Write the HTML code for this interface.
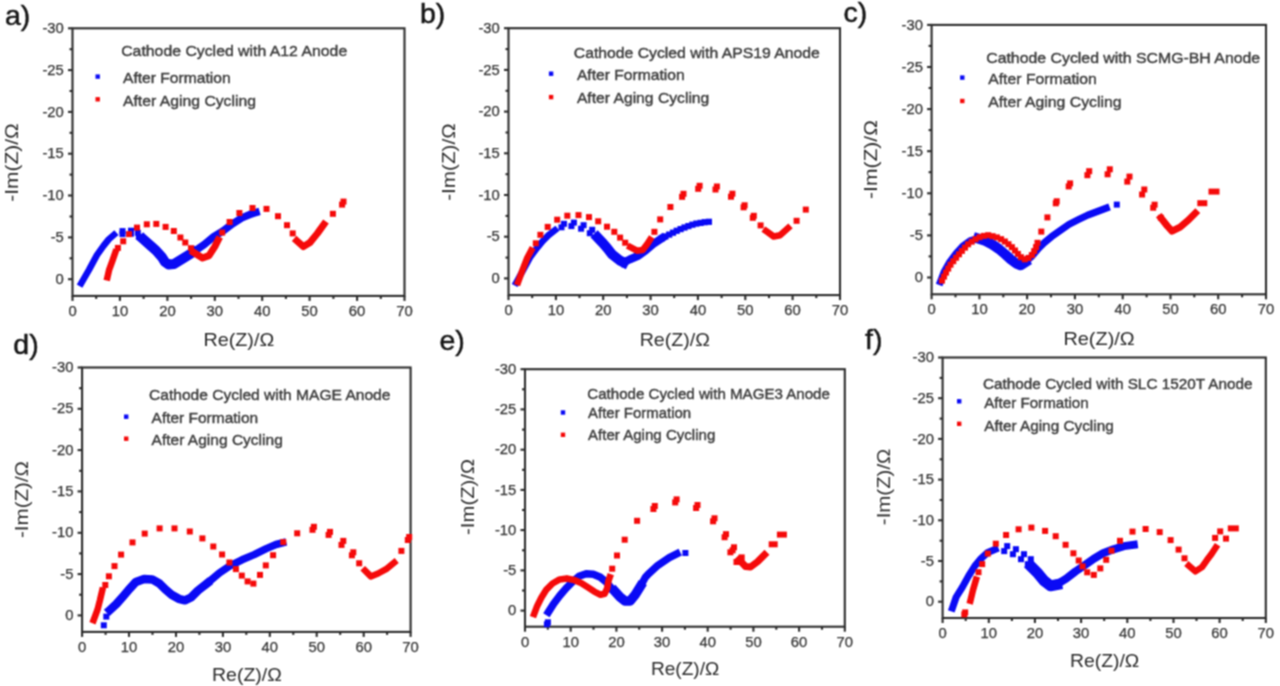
<!DOCTYPE html><html><head><meta charset="utf-8"><title>Nyquist plots</title><style>html,body{margin:0;padding:0;background:#fff;width:1280px;height:686px;overflow:hidden}svg{display:block}text{font-family:"Liberation Sans",sans-serif}</style></head><body>
<svg width="1280" height="686" viewBox="0 0 1280 686">
<defs><filter id="bl" filterUnits="userSpaceOnUse" x="0" y="0" width="1280" height="686" color-interpolation-filters="sRGB"><feConvolveMatrix order="3" kernelMatrix="1 2 1 2 4 2 1 2 1" edgeMode="none" preserveAlpha="false"/></filter></defs>
<rect width="1280" height="686" fill="#fff"/>
<g filter="url(#bl)">
<g stroke="#2c2c2c" stroke-width="2.1"><line x1="72.5" y1="295.9" x2="72.5" y2="300.9"/><line x1="96.2" y1="295.9" x2="96.2" y2="298.9"/><line x1="119.9" y1="295.9" x2="119.9" y2="300.9"/><line x1="143.6" y1="295.9" x2="143.6" y2="298.9"/><line x1="167.4" y1="295.9" x2="167.4" y2="300.9"/><line x1="191.1" y1="295.9" x2="191.1" y2="298.9"/><line x1="214.8" y1="295.9" x2="214.8" y2="300.9"/><line x1="238.5" y1="295.9" x2="238.5" y2="298.9"/><line x1="262.2" y1="295.9" x2="262.2" y2="300.9"/><line x1="285.9" y1="295.9" x2="285.9" y2="298.9"/><line x1="309.6" y1="295.9" x2="309.6" y2="300.9"/><line x1="333.4" y1="295.9" x2="333.4" y2="298.9"/><line x1="357.1" y1="295.9" x2="357.1" y2="300.9"/><line x1="380.8" y1="295.9" x2="380.8" y2="298.9"/><line x1="404.5" y1="295.9" x2="404.5" y2="300.9"/><line x1="72.5" y1="28.3" x2="68" y2="28.3"/><line x1="72.5" y1="49.2" x2="69.5" y2="49.2"/><line x1="72.5" y1="70.1" x2="68" y2="70.1"/><line x1="72.5" y1="91" x2="69.5" y2="91"/><line x1="72.5" y1="111.9" x2="68" y2="111.9"/><line x1="72.5" y1="132.8" x2="69.5" y2="132.8"/><line x1="72.5" y1="153.7" x2="68" y2="153.7"/><line x1="72.5" y1="174.6" x2="69.5" y2="174.6"/><line x1="72.5" y1="195.5" x2="68" y2="195.5"/><line x1="72.5" y1="216.5" x2="69.5" y2="216.5"/><line x1="72.5" y1="237.4" x2="68" y2="237.4"/><line x1="72.5" y1="258.3" x2="69.5" y2="258.3"/><line x1="72.5" y1="279.2" x2="68" y2="279.2"/><rect x="72.5" y="28.3" width="332" height="267.6" fill="none"/></g>
<g fill="#333333" stroke="#333333" stroke-width="0.25" font-size="14.8"><text x="72.5" y="315.8" text-anchor="middle">0</text><text x="119.9" y="315.8" text-anchor="middle">10</text><text x="167.4" y="315.8" text-anchor="middle">20</text><text x="214.8" y="315.8" text-anchor="middle">30</text><text x="262.2" y="315.8" text-anchor="middle">40</text><text x="309.6" y="315.8" text-anchor="middle">50</text><text x="357.1" y="315.8" text-anchor="middle">60</text><text x="404.5" y="315.8" text-anchor="middle">70</text><text x="63.8" y="32.9" text-anchor="end">-30</text><text x="63.8" y="74.7" text-anchor="end">-25</text><text x="63.8" y="116.5" text-anchor="end">-20</text><text x="63.8" y="158.3" text-anchor="end">-15</text><text x="63.8" y="200.1" text-anchor="end">-10</text><text x="63.8" y="242" text-anchor="end">-5</text><text x="63.8" y="283.8" text-anchor="end">0</text></g>
<text x="203.4" y="346.1" font-size="19" fill="#2a2a2a" textLength="70.8" lengthAdjust="spacingAndGlyphs">Re(Z)/Ω</text>
<text transform="translate(18,162.5) rotate(-90)" x="0" y="0" text-anchor="middle" font-size="19" fill="#2a2a2a" textLength="78.5" lengthAdjust="spacingAndGlyphs">-Im(Z)/Ω</text>
<text x="5" y="25.1" font-size="28.5" fill="#151515" stroke="#151515" stroke-width="0.5">a)</text>
<g fill="#3a3a3a" stroke="#3a3a3a" stroke-width="0.4" font-size="15.4"><text x="121.2" y="56.1" textLength="226" lengthAdjust="spacingAndGlyphs">Cathode Cycled with A12 Anode</text><text x="123" y="83.1" textLength="107.6" lengthAdjust="spacingAndGlyphs">After Formation</text><text x="123" y="105.7" textLength="133" lengthAdjust="spacingAndGlyphs">After Aging Cycling</text></g>
<rect x="95.5" y="74.4" width="4.4" height="4.4" fill="#0a0af5"/>
<rect x="95.5" y="97.1" width="4.4" height="4.4" fill="#f50a0a"/>
<g fill="#0a0af5"><polyline points="81.2,283.3 89.1,269.6 96.9,255.1 103.5,245.9 108.7,239.4 114,234.8" fill="none" stroke="#0a0af5" stroke-width="6.5" stroke-linejoin="round" stroke-linecap="square"/><rect x="119.5" y="228.1" width="6" height="6"/><rect x="119.5" y="231.1" width="6" height="6"/><rect x="128" y="227.7" width="6" height="6"/><rect x="128" y="230.7" width="6" height="6"/><rect x="134.8" y="229.8" width="6" height="6"/><rect x="135.8" y="233.8" width="6" height="6"/><polyline points="143.5,239.4 150.1,245.3 156,250.5 161.9,257.1 165,262 168.5,264.5 174,264 183,258.5 192.7,252.5" fill="none" stroke="#0a0af5" stroke-width="10" stroke-linejoin="round" stroke-linecap="square"/><polyline points="192.7,252.5 204.1,244.6 214,236.4 223,231 232.9,223.6 241.9,217.9 251.7,213.8 256,212.5" fill="none" stroke="#0a0af5" stroke-width="7.5" stroke-linejoin="round" stroke-linecap="square"/></g>
<g fill="#f50a0a"><polyline points="107.4,277.4 109.2,269.6 112.4,260.9 115.3,252.5" fill="none" stroke="#f50a0a" stroke-width="6.5" stroke-linejoin="round" stroke-linecap="square"/><rect x="114.9" y="244.9" width="6" height="6"/><rect x="120.2" y="238.3" width="6" height="6"/><rect x="126.1" y="231.1" width="6" height="6"/><rect x="134" y="224.6" width="6" height="6"/><rect x="143.8" y="221.3" width="6" height="6"/><rect x="153.3" y="220.9" width="6" height="6"/><rect x="162.6" y="223.9" width="6" height="6"/><rect x="170.8" y="228" width="6" height="6"/><rect x="177.4" y="234.5" width="6" height="6"/><rect x="182.3" y="239.5" width="6" height="6"/><rect x="188" y="245.2" width="6" height="6"/><polyline points="193.5,252.3 202.5,258 209,255.6 214.8,246.6 218.1,240" fill="none" stroke="#f50a0a" stroke-width="7" stroke-linejoin="round" stroke-linecap="square"/><rect x="219.2" y="229.6" width="6" height="6"/><rect x="226.6" y="219" width="6" height="6"/><rect x="236.4" y="210" width="6" height="6"/><rect x="249.5" y="205" width="6" height="6"/><rect x="263.5" y="205.9" width="6" height="6"/><rect x="275" y="213.2" width="6" height="6"/><rect x="284" y="222.2" width="6" height="6"/><rect x="289.7" y="230.4" width="6" height="6"/><polyline points="296.8,240.8 303.4,246.6 310,242.5 317.4,233.4 323.9,224.4" fill="none" stroke="#f50a0a" stroke-width="7" stroke-linejoin="round" stroke-linecap="square"/><rect x="329.9" y="210.8" width="6" height="6"/><rect x="340.5" y="198.6" width="6" height="6"/><rect x="339.1" y="201.6" width="6" height="6"/></g>
<g stroke="#2c2c2c" stroke-width="2.1"><line x1="508.5" y1="295.1" x2="508.5" y2="300.1"/><line x1="532.2" y1="295.1" x2="532.2" y2="298.1"/><line x1="555.9" y1="295.1" x2="555.9" y2="300.1"/><line x1="579.5" y1="295.1" x2="579.5" y2="298.1"/><line x1="603.2" y1="295.1" x2="603.2" y2="300.1"/><line x1="626.9" y1="295.1" x2="626.9" y2="298.1"/><line x1="650.6" y1="295.1" x2="650.6" y2="300.1"/><line x1="674.2" y1="295.1" x2="674.2" y2="298.1"/><line x1="697.9" y1="295.1" x2="697.9" y2="300.1"/><line x1="721.6" y1="295.1" x2="721.6" y2="298.1"/><line x1="745.3" y1="295.1" x2="745.3" y2="300.1"/><line x1="769" y1="295.1" x2="769" y2="298.1"/><line x1="792.6" y1="295.1" x2="792.6" y2="300.1"/><line x1="816.3" y1="295.1" x2="816.3" y2="298.1"/><line x1="840" y1="295.1" x2="840" y2="300.1"/><line x1="508.5" y1="28.2" x2="504" y2="28.2"/><line x1="508.5" y1="49.1" x2="505.5" y2="49.1"/><line x1="508.5" y1="69.9" x2="504" y2="69.9"/><line x1="508.5" y1="90.8" x2="505.5" y2="90.8"/><line x1="508.5" y1="111.6" x2="504" y2="111.6"/><line x1="508.5" y1="132.5" x2="505.5" y2="132.5"/><line x1="508.5" y1="153.3" x2="504" y2="153.3"/><line x1="508.5" y1="174.2" x2="505.5" y2="174.2"/><line x1="508.5" y1="195" x2="504" y2="195"/><line x1="508.5" y1="215.9" x2="505.5" y2="215.9"/><line x1="508.5" y1="236.7" x2="504" y2="236.7"/><line x1="508.5" y1="257.6" x2="505.5" y2="257.6"/><line x1="508.5" y1="278.4" x2="504" y2="278.4"/><rect x="508.5" y="28.2" width="331.5" height="266.9" fill="none"/></g>
<g fill="#333333" stroke="#333333" stroke-width="0.25" font-size="14.8"><text x="508.5" y="315" text-anchor="middle">0</text><text x="555.9" y="315" text-anchor="middle">10</text><text x="603.2" y="315" text-anchor="middle">20</text><text x="650.6" y="315" text-anchor="middle">30</text><text x="697.9" y="315" text-anchor="middle">40</text><text x="745.3" y="315" text-anchor="middle">50</text><text x="792.6" y="315" text-anchor="middle">60</text><text x="840" y="315" text-anchor="middle">70</text><text x="499.8" y="32.8" text-anchor="end">-30</text><text x="499.8" y="74.5" text-anchor="end">-25</text><text x="499.8" y="116.2" text-anchor="end">-20</text><text x="499.8" y="157.9" text-anchor="end">-15</text><text x="499.8" y="199.6" text-anchor="end">-10</text><text x="499.8" y="241.3" text-anchor="end">-5</text><text x="499.8" y="283" text-anchor="end">0</text></g>
<text x="639.7" y="345.6" font-size="19" fill="#2a2a2a" textLength="70.3" lengthAdjust="spacingAndGlyphs">Re(Z)/Ω</text>
<text transform="translate(454.5,162.1) rotate(-90)" x="0" y="0" text-anchor="middle" font-size="19" fill="#2a2a2a" textLength="77.5" lengthAdjust="spacingAndGlyphs">-Im(Z)/Ω</text>
<text x="420" y="23.3" font-size="28.5" fill="#151515" stroke="#151515" stroke-width="0.5">b)</text>
<g fill="#3a3a3a" stroke="#3a3a3a" stroke-width="0.4" font-size="15.4"><text x="573.8" y="58.4" textLength="246" lengthAdjust="spacingAndGlyphs">Cathode Cycled with APS19 Anode</text><text x="576.9" y="80" textLength="107.8" lengthAdjust="spacingAndGlyphs">After Formation</text><text x="576.9" y="103" textLength="132.4" lengthAdjust="spacingAndGlyphs">After Aging Cycling</text></g>
<rect x="548.9" y="71.5" width="4.4" height="4.4" fill="#0a0af5"/>
<rect x="548.9" y="94.9" width="4.4" height="4.4" fill="#f50a0a"/>
<g fill="#0a0af5"><polyline points="516.2,282.7 523.4,269.6 529.9,257.7 536.5,248.6 543.1,240.7 548.3,235.4 554.9,230.2" fill="none" stroke="#0a0af5" stroke-width="6.5" stroke-linejoin="round" stroke-linecap="square"/><rect x="561" y="220.8" width="6" height="6"/><rect x="558.5" y="224.3" width="6" height="6"/><rect x="570.9" y="219.6" width="6" height="6"/><rect x="568.4" y="223.1" width="6" height="6"/><rect x="580.6" y="222.2" width="6" height="6"/><rect x="578.1" y="225.7" width="6" height="6"/><rect x="589.2" y="226.8" width="6" height="6"/><rect x="586.8" y="230.2" width="6" height="6"/><polyline points="597.5,237.4 602.8,243 607.5,248.5 612.1,254.4 619.4,260.2 623.7,262.4" fill="none" stroke="#0a0af5" stroke-width="10" stroke-linejoin="round" stroke-linecap="square"/><polyline points="623.7,262.4 629.6,259.5 638.3,255.8 645.6,250.5 652.9,244.2 661.7,238.3" fill="none" stroke="#0a0af5" stroke-width="8" stroke-linejoin="round" stroke-linecap="square"/><rect x="658.6" y="235.2" width="6.2" height="6.2"/><rect x="662.4" y="233.3" width="6.2" height="6.2"/><rect x="666.1" y="231.5" width="6.2" height="6.2"/><rect x="669.9" y="229.6" width="6.2" height="6.2"/><rect x="673.6" y="227.7" width="6.2" height="6.2"/><rect x="677.5" y="226" width="6.2" height="6.2"/><rect x="681.4" y="224.4" width="6.2" height="6.2"/><rect x="685.3" y="223" width="6.2" height="6.2"/><rect x="689.3" y="221.6" width="6.2" height="6.2"/><rect x="693.3" y="220.5" width="6.2" height="6.2"/><rect x="697.5" y="219.8" width="6.2" height="6.2"/><rect x="701.6" y="219.1" width="6.2" height="6.2"/><rect x="705.8" y="218.7" width="6.2" height="6.2"/></g>
<g fill="#f50a0a"><polyline points="518.1,282 522.5,270 527.3,257.7 531.2,250.5" fill="none" stroke="#f50a0a" stroke-width="6.5" stroke-linejoin="round" stroke-linecap="square"/><rect x="532.8" y="240.3" width="6" height="6"/><rect x="537.4" y="231.8" width="6" height="6"/><rect x="544.7" y="223.9" width="6" height="6"/><rect x="554.2" y="216.7" width="6" height="6"/><rect x="564.3" y="212.7" width="6" height="6"/><rect x="575.5" y="212.1" width="6" height="6"/><rect x="586" y="214.1" width="6" height="6"/><rect x="595.2" y="218.3" width="6" height="6"/><rect x="604" y="223.7" width="6" height="6"/><rect x="611.3" y="228.8" width="6" height="6"/><rect x="617.1" y="234.6" width="6" height="6"/><rect x="622.2" y="239.7" width="6" height="6"/><polyline points="630.3,247.1 636.9,250.7 642.7,250 647.1,244.2 650,239.8" fill="none" stroke="#f50a0a" stroke-width="6.5" stroke-linejoin="round" stroke-linecap="square"/><rect x="651.4" y="228.8" width="6" height="6"/><rect x="657.2" y="216.4" width="6" height="6"/><rect x="667.4" y="204" width="6" height="6"/><rect x="680.5" y="190.8" width="6" height="6"/><rect x="679.1" y="193.8" width="6" height="6"/><rect x="696.6" y="182.8" width="6" height="6"/><rect x="695.2" y="185.8" width="6" height="6"/><rect x="713.9" y="183.5" width="6" height="6"/><rect x="712.5" y="186.5" width="6" height="6"/><rect x="729.4" y="190.7" width="6" height="6"/><rect x="728" y="193.7" width="6" height="6"/><rect x="741.6" y="202.3" width="6" height="6"/><rect x="740.6" y="204.3" width="6" height="6"/><rect x="750.8" y="212.8" width="6" height="6"/><rect x="749.8" y="214.8" width="6" height="6"/><rect x="757.6" y="222.4" width="6" height="6"/><polyline points="766,231 773.7,236.5 780.2,235.2 788.1,228" fill="none" stroke="#f50a0a" stroke-width="6.5" stroke-linejoin="round" stroke-linecap="square"/><rect x="793.6" y="217.8" width="6" height="6"/><rect x="802.8" y="206.6" width="6" height="6"/></g>
<g stroke="#2c2c2c" stroke-width="2.1"><line x1="931.6" y1="294.3" x2="931.6" y2="299.3"/><line x1="955.5" y1="294.3" x2="955.5" y2="297.3"/><line x1="979.4" y1="294.3" x2="979.4" y2="299.3"/><line x1="1003.3" y1="294.3" x2="1003.3" y2="297.3"/><line x1="1027.1" y1="294.3" x2="1027.1" y2="299.3"/><line x1="1051" y1="294.3" x2="1051" y2="297.3"/><line x1="1074.9" y1="294.3" x2="1074.9" y2="299.3"/><line x1="1098.8" y1="294.3" x2="1098.8" y2="297.3"/><line x1="1122.7" y1="294.3" x2="1122.7" y2="299.3"/><line x1="1146.6" y1="294.3" x2="1146.6" y2="297.3"/><line x1="1170.5" y1="294.3" x2="1170.5" y2="299.3"/><line x1="1194.3" y1="294.3" x2="1194.3" y2="297.3"/><line x1="1218.2" y1="294.3" x2="1218.2" y2="299.3"/><line x1="1242.1" y1="294.3" x2="1242.1" y2="297.3"/><line x1="1266" y1="294.3" x2="1266" y2="299.3"/><line x1="931.6" y1="24.9" x2="927.1" y2="24.9"/><line x1="931.6" y1="45.9" x2="928.6" y2="45.9"/><line x1="931.6" y1="67" x2="927.1" y2="67"/><line x1="931.6" y1="88" x2="928.6" y2="88"/><line x1="931.6" y1="109.1" x2="927.1" y2="109.1"/><line x1="931.6" y1="130.1" x2="928.6" y2="130.1"/><line x1="931.6" y1="151.2" x2="927.1" y2="151.2"/><line x1="931.6" y1="172.2" x2="928.6" y2="172.2"/><line x1="931.6" y1="193.3" x2="927.1" y2="193.3"/><line x1="931.6" y1="214.3" x2="928.6" y2="214.3"/><line x1="931.6" y1="235.4" x2="927.1" y2="235.4"/><line x1="931.6" y1="256.4" x2="928.6" y2="256.4"/><line x1="931.6" y1="277.5" x2="927.1" y2="277.5"/><rect x="931.6" y="24.9" width="334.4" height="269.4" fill="none"/></g>
<g fill="#333333" stroke="#333333" stroke-width="0.25" font-size="14.8"><text x="931.6" y="314.2" text-anchor="middle">0</text><text x="979.4" y="314.2" text-anchor="middle">10</text><text x="1027.1" y="314.2" text-anchor="middle">20</text><text x="1074.9" y="314.2" text-anchor="middle">30</text><text x="1122.7" y="314.2" text-anchor="middle">40</text><text x="1170.5" y="314.2" text-anchor="middle">50</text><text x="1218.2" y="314.2" text-anchor="middle">60</text><text x="1266" y="314.2" text-anchor="middle">70</text><text x="922.9" y="29.5" text-anchor="end">-30</text><text x="922.9" y="71.6" text-anchor="end">-25</text><text x="922.9" y="113.7" text-anchor="end">-20</text><text x="922.9" y="155.8" text-anchor="end">-15</text><text x="922.9" y="197.9" text-anchor="end">-10</text><text x="922.9" y="240" text-anchor="end">-5</text><text x="922.9" y="282.1" text-anchor="end">0</text></g>
<text x="1063.4" y="344.8" font-size="19" fill="#2a2a2a" textLength="71.3" lengthAdjust="spacingAndGlyphs">Re(Z)/Ω</text>
<text transform="translate(877,159.5) rotate(-90)" x="0" y="0" text-anchor="middle" font-size="19" fill="#2a2a2a" textLength="79" lengthAdjust="spacingAndGlyphs">-Im(Z)/Ω</text>
<text x="843.5" y="21.5" font-size="28.5" fill="#151515" stroke="#151515" stroke-width="0.5">c)</text>
<g fill="#3a3a3a" stroke="#3a3a3a" stroke-width="0.4" font-size="15.4"><text x="986.2" y="63.4" textLength="274" lengthAdjust="spacingAndGlyphs">Cathode Cycled with SCMG-BH Anode</text><text x="988.2" y="83.7" textLength="108.7" lengthAdjust="spacingAndGlyphs">After Formation</text><text x="988.2" y="107.3" textLength="133.3" lengthAdjust="spacingAndGlyphs">After Aging Cycling</text></g>
<rect x="960.1" y="75.4" width="4.4" height="4.4" fill="#0a0af5"/>
<rect x="960.1" y="98.8" width="4.4" height="4.4" fill="#f50a0a"/>
<g fill="#0a0af5"><polyline points="940.4,281.7 944.2,271.8 949.7,262 956.2,253.3 962.8,246.1 970.4,240.7 978.1,238.5" fill="none" stroke="#0a0af5" stroke-width="7" stroke-linejoin="round" stroke-linecap="square"/><polyline points="978.1,238.5 985.7,241 992.3,244.5 998.9,249 1005.4,254.5 1010.9,259.5 1016.3,263.5 1020.7,265.3 1025.1,262.5" fill="none" stroke="#0a0af5" stroke-width="10" stroke-linejoin="round" stroke-linecap="square"/><polyline points="1025.1,262.5 1031.7,256.5 1038.7,248.3 1044.5,242.5 1051.5,236.7 1059.7,230.8 1069,224.4 1078.3,219.7 1087.7,215.1 1097,211.6 1106.3,208.1" fill="none" stroke="#0a0af5" stroke-width="7" stroke-linejoin="round" stroke-linecap="square"/><rect x="1113.8" y="201.6" width="6" height="6"/></g>
<g fill="#f50a0a"><rect x="939" y="277.6" width="6" height="6"/><rect x="941" y="273.6" width="6" height="6"/><rect x="943" y="269.6" width="6" height="6"/><rect x="945.2" y="265.6" width="6" height="6"/><rect x="947.5" y="261.7" width="6" height="6"/><rect x="950.3" y="258.2" width="6" height="6"/><rect x="953.1" y="254.7" width="6" height="6"/><rect x="956" y="251.3" width="6" height="6"/><rect x="958.9" y="247.9" width="6" height="6"/><rect x="962" y="244.6" width="6" height="6"/><rect x="965.1" y="241.3" width="6" height="6"/><rect x="968.7" y="238.7" width="6" height="6"/><rect x="972.5" y="236.2" width="6" height="6"/><rect x="976.5" y="234.2" width="6" height="6"/><rect x="980.8" y="232.9" width="6" height="6"/><rect x="985.2" y="232.2" width="6" height="6"/><rect x="989.6" y="233.2" width="6" height="6"/><rect x="993.9" y="234.4" width="6" height="6"/><rect x="998.1" y="236.2" width="6" height="6"/><rect x="1001.9" y="238.5" width="6" height="6"/><rect x="1005.5" y="241.2" width="6" height="6"/><rect x="1008.9" y="244.2" width="6" height="6"/><rect x="1012" y="247.5" width="6" height="6"/><rect x="1014.9" y="250.9" width="6" height="6"/><rect x="1017.9" y="254.2" width="6" height="6"/><rect x="1021.8" y="256.3" width="6" height="6"/><rect x="1025.5" y="254.9" width="6" height="6"/><rect x="1028.9" y="252" width="6" height="6"/><rect x="1031.2" y="248.1" width="6" height="6"/><rect x="1033.1" y="244.1" width="6" height="6"/><rect x="1034.5" y="239.8" width="6" height="6"/><rect x="1038.3" y="228.6" width="6" height="6"/><rect x="1044.4" y="214.4" width="6" height="6"/><rect x="1053.7" y="198.3" width="6" height="6"/><rect x="1052.8" y="200.3" width="6" height="6"/><rect x="1067.1" y="180.4" width="6" height="6"/><rect x="1065.7" y="183.4" width="6" height="6"/><rect x="1086.2" y="168.2" width="6" height="6"/><rect x="1084.4" y="172.2" width="6" height="6"/><rect x="1106.8" y="166.3" width="6" height="6"/><rect x="1104.6" y="171.3" width="6" height="6"/><rect x="1126.5" y="173.6" width="6" height="6"/><rect x="1124.3" y="178.6" width="6" height="6"/><rect x="1141.3" y="186.5" width="6" height="6"/><rect x="1139.1" y="191.5" width="6" height="6"/><rect x="1151.6" y="201.7" width="6" height="6"/><rect x="1150.2" y="204.7" width="6" height="6"/><rect x="1157.9" y="214.8" width="6" height="6"/><polyline points="1160.9,217.8 1167.3,226 1172,231.2 1180.1,227.1 1188.3,220.1 1195.3,213.1" fill="none" stroke="#f50a0a" stroke-width="7" stroke-linejoin="round" stroke-linecap="square"/><rect x="1197.3" y="200.2" width="10" height="6"/><rect x="1208.5" y="188.6" width="11" height="6"/></g>
<g stroke="#2c2c2c" stroke-width="2.1"><line x1="82.1" y1="631.9" x2="82.1" y2="636.9"/><line x1="105.6" y1="631.9" x2="105.6" y2="634.9"/><line x1="129" y1="631.9" x2="129" y2="636.9"/><line x1="152.5" y1="631.9" x2="152.5" y2="634.9"/><line x1="176" y1="631.9" x2="176" y2="636.9"/><line x1="199.4" y1="631.9" x2="199.4" y2="634.9"/><line x1="222.9" y1="631.9" x2="222.9" y2="636.9"/><line x1="246.3" y1="631.9" x2="246.3" y2="634.9"/><line x1="269.8" y1="631.9" x2="269.8" y2="636.9"/><line x1="293.3" y1="631.9" x2="293.3" y2="634.9"/><line x1="316.7" y1="631.9" x2="316.7" y2="636.9"/><line x1="340.2" y1="631.9" x2="340.2" y2="634.9"/><line x1="363.7" y1="631.9" x2="363.7" y2="636.9"/><line x1="387.1" y1="631.9" x2="387.1" y2="634.9"/><line x1="410.6" y1="631.9" x2="410.6" y2="636.9"/><line x1="82.1" y1="367.5" x2="77.6" y2="367.5"/><line x1="82.1" y1="388.2" x2="79.1" y2="388.2"/><line x1="82.1" y1="408.8" x2="77.6" y2="408.8"/><line x1="82.1" y1="429.5" x2="79.1" y2="429.5"/><line x1="82.1" y1="450.1" x2="77.6" y2="450.1"/><line x1="82.1" y1="470.8" x2="79.1" y2="470.8"/><line x1="82.1" y1="491.4" x2="77.6" y2="491.4"/><line x1="82.1" y1="512.1" x2="79.1" y2="512.1"/><line x1="82.1" y1="532.8" x2="77.6" y2="532.8"/><line x1="82.1" y1="553.4" x2="79.1" y2="553.4"/><line x1="82.1" y1="574.1" x2="77.6" y2="574.1"/><line x1="82.1" y1="594.7" x2="79.1" y2="594.7"/><line x1="82.1" y1="615.4" x2="77.6" y2="615.4"/><rect x="82.1" y="367.5" width="328.5" height="264.4" fill="none"/></g>
<g fill="#333333" stroke="#333333" stroke-width="0.25" font-size="14.8"><text x="82.1" y="651.8" text-anchor="middle">0</text><text x="129" y="651.8" text-anchor="middle">10</text><text x="176" y="651.8" text-anchor="middle">20</text><text x="222.9" y="651.8" text-anchor="middle">30</text><text x="269.8" y="651.8" text-anchor="middle">40</text><text x="316.7" y="651.8" text-anchor="middle">50</text><text x="363.7" y="651.8" text-anchor="middle">60</text><text x="410.6" y="651.8" text-anchor="middle">70</text><text x="73.4" y="372.1" text-anchor="end">-30</text><text x="73.4" y="413.4" text-anchor="end">-25</text><text x="73.4" y="454.7" text-anchor="end">-20</text><text x="73.4" y="496" text-anchor="end">-15</text><text x="73.4" y="537.4" text-anchor="end">-10</text><text x="73.4" y="578.7" text-anchor="end">-5</text><text x="73.4" y="620" text-anchor="end">0</text></g>
<text x="212" y="681.4" font-size="19" fill="#2a2a2a" textLength="69.8" lengthAdjust="spacingAndGlyphs">Re(Z)/Ω</text>
<text transform="translate(27.8,499.5) rotate(-90)" x="0" y="0" text-anchor="middle" font-size="19" fill="#2a2a2a" textLength="77" lengthAdjust="spacingAndGlyphs">-Im(Z)/Ω</text>
<text x="13.3" y="353.8" font-size="28.5" fill="#151515" stroke="#151515" stroke-width="0.5">d)</text>
<g fill="#3a3a3a" stroke="#3a3a3a" stroke-width="0.4" font-size="15.4"><text x="149" y="399.6" textLength="241.4" lengthAdjust="spacingAndGlyphs">Cathode Cycled with MAGE Anode</text><text x="151.6" y="422.6" textLength="106.6" lengthAdjust="spacingAndGlyphs">After Formation</text><text x="151.6" y="445.3" textLength="131.2" lengthAdjust="spacingAndGlyphs">After Aging Cycling</text></g>
<rect x="124" y="414.5" width="4.4" height="4.4" fill="#0a0af5"/>
<rect x="124" y="436.5" width="4.4" height="4.4" fill="#f50a0a"/>
<g fill="#0a0af5"><rect x="100.8" y="622.3" width="6" height="6"/><rect x="103.3" y="613.6" width="6" height="6"/><polyline points="109.9,610 116.5,603.9 123.7,595.7 129.8,588.6 135.9,581.9 144.1,578.9 152.2,579.4 159.4,583.5 165.5,589.6 171.6,594.7 178.8,598.8 184.9,600.3 191,597.5 198,590.5 207.3,583.2" fill="none" stroke="#0a0af5" stroke-width="8.5" stroke-linejoin="round" stroke-linecap="square"/><polyline points="207.3,583.2 219.5,572.8 229.9,565.9 242,559.8 254.2,554.6 266.3,548.6 276,544.5 282.6,542.8" fill="none" stroke="#0a0af5" stroke-width="7.5" stroke-linejoin="round" stroke-linecap="square"/></g>
<g fill="#f50a0a"><polyline points="93.6,620.2 97.5,609.7 100,600 102.2,590.6" fill="none" stroke="#f50a0a" stroke-width="6.5" stroke-linejoin="round" stroke-linecap="square"/><rect x="102.3" y="582" width="6" height="6"/><rect x="105.9" y="573.3" width="6" height="6"/><rect x="111.5" y="563.1" width="6" height="6"/><rect x="118.1" y="551.6" width="6" height="6"/><rect x="129.5" y="539.4" width="6" height="6"/><rect x="141.7" y="530.6" width="6" height="6"/><rect x="156.6" y="525.4" width="6" height="6"/><rect x="171.5" y="525.4" width="6" height="6"/><rect x="186.8" y="528.5" width="6" height="6"/><rect x="199.4" y="535.4" width="6" height="6"/><rect x="210.3" y="543.5" width="6" height="6"/><rect x="219.1" y="551.5" width="6" height="6"/><rect x="226.4" y="559.5" width="6" height="6"/><rect x="232.9" y="566.1" width="6" height="6"/><rect x="238.8" y="572.6" width="6" height="6"/><rect x="244.6" y="578.4" width="6" height="6"/><rect x="250.4" y="580.6" width="6" height="6"/><rect x="257" y="571.9" width="6" height="6"/><rect x="262.8" y="562.4" width="6" height="6"/><rect x="270.1" y="552.2" width="6" height="6"/><rect x="280.3" y="539.1" width="6" height="6"/><rect x="294.2" y="530.3" width="6" height="6"/><rect x="310.9" y="523.8" width="6" height="6"/><rect x="309.5" y="526.8" width="6" height="6"/><rect x="327" y="528.9" width="6" height="6"/><rect x="325.6" y="531.9" width="6" height="6"/><rect x="340.3" y="537.9" width="6" height="6"/><rect x="338.5" y="541.9" width="6" height="6"/><rect x="350.3" y="549.3" width="6" height="6"/><rect x="348.9" y="552.3" width="6" height="6"/><rect x="356.2" y="560.3" width="6" height="6"/><polyline points="365,570.6 370.8,576.4 378.1,573.5 386.1,569.2 394.2,562.6" fill="none" stroke="#f50a0a" stroke-width="6.5" stroke-linejoin="round" stroke-linecap="square"/><rect x="398.4" y="547.9" width="6" height="6"/><rect x="406.2" y="534" width="6" height="6"/><rect x="404.8" y="537" width="6" height="6"/></g>
<g stroke="#2c2c2c" stroke-width="2.1"><line x1="525" y1="626.7" x2="525" y2="631.7"/><line x1="547.8" y1="626.7" x2="547.8" y2="629.7"/><line x1="570.7" y1="626.7" x2="570.7" y2="631.7"/><line x1="593.5" y1="626.7" x2="593.5" y2="629.7"/><line x1="616.4" y1="626.7" x2="616.4" y2="631.7"/><line x1="639.2" y1="626.7" x2="639.2" y2="629.7"/><line x1="662.1" y1="626.7" x2="662.1" y2="631.7"/><line x1="684.9" y1="626.7" x2="684.9" y2="629.7"/><line x1="707.7" y1="626.7" x2="707.7" y2="631.7"/><line x1="730.6" y1="626.7" x2="730.6" y2="629.7"/><line x1="753.4" y1="626.7" x2="753.4" y2="631.7"/><line x1="776.3" y1="626.7" x2="776.3" y2="629.7"/><line x1="799.1" y1="626.7" x2="799.1" y2="631.7"/><line x1="822" y1="626.7" x2="822" y2="629.7"/><line x1="844.8" y1="626.7" x2="844.8" y2="631.7"/><line x1="525" y1="369.2" x2="520.5" y2="369.2"/><line x1="525" y1="389.3" x2="522" y2="389.3"/><line x1="525" y1="409.4" x2="520.5" y2="409.4"/><line x1="525" y1="429.6" x2="522" y2="429.6"/><line x1="525" y1="449.7" x2="520.5" y2="449.7"/><line x1="525" y1="469.8" x2="522" y2="469.8"/><line x1="525" y1="489.9" x2="520.5" y2="489.9"/><line x1="525" y1="510" x2="522" y2="510"/><line x1="525" y1="530.1" x2="520.5" y2="530.1"/><line x1="525" y1="550.3" x2="522" y2="550.3"/><line x1="525" y1="570.4" x2="520.5" y2="570.4"/><line x1="525" y1="590.5" x2="522" y2="590.5"/><line x1="525" y1="610.6" x2="520.5" y2="610.6"/><rect x="525" y="369.2" width="319.8" height="257.5" fill="none"/></g>
<g fill="#333333" stroke="#333333" stroke-width="0.25" font-size="14.8"><text x="525" y="646.6" text-anchor="middle">0</text><text x="570.7" y="646.6" text-anchor="middle">10</text><text x="616.4" y="646.6" text-anchor="middle">20</text><text x="662.1" y="646.6" text-anchor="middle">30</text><text x="707.7" y="646.6" text-anchor="middle">40</text><text x="753.4" y="646.6" text-anchor="middle">50</text><text x="799.1" y="646.6" text-anchor="middle">60</text><text x="844.8" y="646.6" text-anchor="middle">70</text><text x="516.3" y="373.8" text-anchor="end">-30</text><text x="516.3" y="414" text-anchor="end">-25</text><text x="516.3" y="454.3" text-anchor="end">-20</text><text x="516.3" y="494.5" text-anchor="end">-15</text><text x="516.3" y="534.7" text-anchor="end">-10</text><text x="516.3" y="575" text-anchor="end">-5</text><text x="516.3" y="615.2" text-anchor="end">0</text></g>
<text x="650.9" y="674.5" font-size="19" fill="#2a2a2a" textLength="68.4" lengthAdjust="spacingAndGlyphs">Re(Z)/Ω</text>
<text transform="translate(474,496.9) rotate(-90)" x="0" y="0" text-anchor="middle" font-size="19" fill="#2a2a2a" textLength="76" lengthAdjust="spacingAndGlyphs">-Im(Z)/Ω</text>
<text x="439.5" y="350.3" font-size="28.5" fill="#151515" stroke="#151515" stroke-width="0.5">e)</text>
<g fill="#3a3a3a" stroke="#3a3a3a" stroke-width="0.4" font-size="15.4"><text x="587.3" y="398.9" textLength="242.6" lengthAdjust="spacingAndGlyphs">Cathode Cycled with MAGE3 Anode</text><text x="588" y="418.4" textLength="103.2" lengthAdjust="spacingAndGlyphs">After Formation</text><text x="588" y="440.2" textLength="127.3" lengthAdjust="spacingAndGlyphs">After Aging Cycling</text></g>
<rect x="560.8" y="410.3" width="4.4" height="4.4" fill="#0a0af5"/>
<rect x="560.8" y="432.6" width="4.4" height="4.4" fill="#f50a0a"/>
<g fill="#0a0af5"><rect x="544.9" y="619.3" width="6" height="6"/><rect x="543.9" y="621.3" width="6" height="6"/><polyline points="548.4,612 553.5,603.9 559.7,595.7 565.8,588.6 571.9,582.4 579,576.3 586.2,573.8 593.3,574.3 600.5,577.3 606.6,582.4 612.7,589.6 618.8,595.7 625,600.8 630.1,600.8 635.2,594.7 640.3,586.5 645.4,577.3 648.4,574 657.9,565.3 669.3,557.7 676.9,553.9" fill="none" stroke="#0a0af5" stroke-width="7.5" stroke-linejoin="round" stroke-linecap="square"/><polyline points="615,591.5 620,597 625,601 630.1,601 635.2,594.7 640.3,586.5" fill="none" stroke="#0a0af5" stroke-width="9.5" stroke-linejoin="round" stroke-linecap="square"/><rect x="682.4" y="550" width="6" height="6"/></g>
<g fill="#f50a0a"><polyline points="534.1,614.1 537.2,605.9 541.3,597.8 546.4,589.6 552.5,583.5 559.7,579.4 566.8,578.4 573.9,579.9 581.1,583 588.2,587.6 594.3,591.6 600.5,594.7 604.6,593.7 607.1,588.6 608.6,580.4 609.7,577.3" fill="none" stroke="#f50a0a" stroke-width="6.6" stroke-linejoin="round" stroke-linecap="square"/><rect x="609.2" y="565.7" width="6" height="6"/><rect x="614" y="552.5" width="6" height="6"/><rect x="621.7" y="536.7" width="6" height="6"/><rect x="634.1" y="517.8" width="6" height="6"/><rect x="651.8" y="503" width="6" height="6"/><rect x="650.4" y="506" width="6" height="6"/><rect x="673.6" y="496.4" width="6" height="6"/><rect x="672.2" y="499.4" width="6" height="6"/><rect x="694.5" y="502" width="6" height="6"/><rect x="693.1" y="505" width="6" height="6"/><rect x="711.5" y="515.3" width="6" height="6"/><rect x="710.1" y="518.3" width="6" height="6"/><rect x="723" y="531.2" width="6" height="6"/><rect x="721.6" y="534.2" width="6" height="6"/><rect x="731" y="544.3" width="6" height="6"/><rect x="729.6" y="547.3" width="6" height="6"/><polyline points="739.1,559.7 745.5,566.5 750.5,567 757.5,561.8 764.5,554.8" fill="none" stroke="#f50a0a" stroke-width="7" stroke-linejoin="round" stroke-linecap="square"/><rect x="727.4" y="549.3" width="6" height="6"/><rect x="733.5" y="559" width="6" height="6"/><rect x="738.7" y="554.4" width="6" height="6"/><rect x="768.7" y="541.3" width="9" height="6"/><rect x="776.9" y="531.6" width="10" height="6"/></g>
<g stroke="#2c2c2c" stroke-width="2.1"><line x1="942.6" y1="618" x2="942.6" y2="623"/><line x1="965.7" y1="618" x2="965.7" y2="621"/><line x1="988.8" y1="618" x2="988.8" y2="623"/><line x1="1011.9" y1="618" x2="1011.9" y2="621"/><line x1="1034.9" y1="618" x2="1034.9" y2="623"/><line x1="1058" y1="618" x2="1058" y2="621"/><line x1="1081.1" y1="618" x2="1081.1" y2="623"/><line x1="1104.2" y1="618" x2="1104.2" y2="621"/><line x1="1127.3" y1="618" x2="1127.3" y2="623"/><line x1="1150.4" y1="618" x2="1150.4" y2="621"/><line x1="1173.5" y1="618" x2="1173.5" y2="623"/><line x1="1196.5" y1="618" x2="1196.5" y2="621"/><line x1="1219.6" y1="618" x2="1219.6" y2="623"/><line x1="1242.7" y1="618" x2="1242.7" y2="621"/><line x1="1265.8" y1="618" x2="1265.8" y2="623"/><line x1="942.6" y1="357.5" x2="938.1" y2="357.5"/><line x1="942.6" y1="377.9" x2="939.6" y2="377.9"/><line x1="942.6" y1="398.2" x2="938.1" y2="398.2"/><line x1="942.6" y1="418.6" x2="939.6" y2="418.6"/><line x1="942.6" y1="438.9" x2="938.1" y2="438.9"/><line x1="942.6" y1="459.3" x2="939.6" y2="459.3"/><line x1="942.6" y1="479.6" x2="938.1" y2="479.6"/><line x1="942.6" y1="500" x2="939.6" y2="500"/><line x1="942.6" y1="520.3" x2="938.1" y2="520.3"/><line x1="942.6" y1="540.7" x2="939.6" y2="540.7"/><line x1="942.6" y1="561" x2="938.1" y2="561"/><line x1="942.6" y1="581.4" x2="939.6" y2="581.4"/><line x1="942.6" y1="601.7" x2="938.1" y2="601.7"/><rect x="942.6" y="357.5" width="323.2" height="260.5" fill="none"/></g>
<g fill="#333333" stroke="#333333" stroke-width="0.25" font-size="14.8"><text x="942.6" y="637.9" text-anchor="middle">0</text><text x="988.8" y="637.9" text-anchor="middle">10</text><text x="1034.9" y="637.9" text-anchor="middle">20</text><text x="1081.1" y="637.9" text-anchor="middle">30</text><text x="1127.3" y="637.9" text-anchor="middle">40</text><text x="1173.5" y="637.9" text-anchor="middle">50</text><text x="1219.6" y="637.9" text-anchor="middle">60</text><text x="1265.8" y="637.9" text-anchor="middle">70</text><text x="933.9" y="362.1" text-anchor="end">-30</text><text x="933.9" y="402.8" text-anchor="end">-25</text><text x="933.9" y="443.5" text-anchor="end">-20</text><text x="933.9" y="484.2" text-anchor="end">-15</text><text x="933.9" y="524.9" text-anchor="end">-10</text><text x="933.9" y="565.6" text-anchor="end">-5</text><text x="933.9" y="606.3" text-anchor="end">0</text></g>
<text x="1070" y="666.9" font-size="19" fill="#2a2a2a" textLength="69.3" lengthAdjust="spacingAndGlyphs">Re(Z)/Ω</text>
<text transform="translate(889.5,486.9) rotate(-90)" x="0" y="0" text-anchor="middle" font-size="19" fill="#2a2a2a" textLength="76.5" lengthAdjust="spacingAndGlyphs">-Im(Z)/Ω</text>
<text x="865" y="349.4" font-size="28.5" fill="#151515" stroke="#151515" stroke-width="0.5">f)</text>
<g fill="#3a3a3a" stroke="#3a3a3a" stroke-width="0.4" font-size="15.4"><text x="983" y="388.8" textLength="269.5" lengthAdjust="spacingAndGlyphs">Cathode Cycled with SLC 1520T Anode</text><text x="984.2" y="407.5" textLength="104.5" lengthAdjust="spacingAndGlyphs">After Formation</text><text x="984.2" y="430.5" textLength="129.5" lengthAdjust="spacingAndGlyphs">After Aging Cycling</text></g>
<rect x="957" y="399.1" width="4.4" height="4.4" fill="#0a0af5"/>
<rect x="957" y="421.6" width="4.4" height="4.4" fill="#f50a0a"/>
<g fill="#0a0af5"><polyline points="952.4,608.1 956.2,597 962.4,587.1 968.6,575.9 974.8,566 981,558.6 987.8,552.4 995.2,549.3" fill="none" stroke="#0a0af5" stroke-width="7" stroke-linejoin="round" stroke-linecap="square"/><rect x="1004.2" y="543.1" width="6" height="6"/><rect x="1001.2" y="548.1" width="6" height="6"/><rect x="1012.9" y="546.2" width="6" height="6"/><rect x="1009.9" y="551.2" width="6" height="6"/><rect x="1021" y="551.2" width="6" height="6"/><rect x="1018" y="556.2" width="6" height="6"/><rect x="1027.8" y="556.2" width="6" height="6"/><rect x="1024.8" y="561.2" width="6" height="6"/><polyline points="1031.8,567.2 1038,573.4 1044.2,580.9 1050.4,585.8 1056.6,584.6" fill="none" stroke="#0a0af5" stroke-width="11" stroke-linejoin="round" stroke-linecap="square"/><polyline points="1056.6,584.6 1066.2,578.6 1075.4,571.5 1084.6,565.3 1093.8,558.7 1103,553.3 1113.4,549.3 1123.9,546.1 1133.8,544.8" fill="none" stroke="#0a0af5" stroke-width="8" stroke-linejoin="round" stroke-linecap="square"/></g>
<g fill="#f50a0a"><rect x="962.2" y="609.4" width="6" height="6"/><rect x="961.3" y="611.4" width="6" height="6"/><polyline points="970.4,600.7 973,590 976,579.6" fill="none" stroke="#f50a0a" stroke-width="6.5" stroke-linejoin="round" stroke-linecap="square"/><rect x="975.5" y="569.2" width="6" height="6"/><rect x="979.2" y="561.1" width="6" height="6"/><rect x="984.8" y="550.6" width="6" height="6"/><rect x="992.8" y="540.7" width="6" height="6"/><rect x="1003.1" y="532" width="6" height="6"/><rect x="1015.6" y="526.3" width="6" height="6"/><rect x="1028.4" y="524.6" width="6" height="6"/><rect x="1042.1" y="527.9" width="6" height="6"/><rect x="1052.7" y="533.2" width="6" height="6"/><rect x="1062.6" y="541.8" width="6" height="6"/><rect x="1070.4" y="550.3" width="6" height="6"/><rect x="1075.7" y="557.5" width="6" height="6"/><rect x="1079.6" y="563.4" width="6" height="6"/><rect x="1084.2" y="569.3" width="6" height="6"/><rect x="1090.8" y="571.9" width="6" height="6"/><rect x="1097.3" y="565.4" width="6" height="6"/><rect x="1103.2" y="556.8" width="6" height="6"/><rect x="1108.5" y="547.7" width="6" height="6"/><rect x="1117" y="537.8" width="6" height="6"/><rect x="1129.5" y="528.6" width="6" height="6"/><rect x="1142.6" y="526" width="6" height="6"/><rect x="1156.7" y="529.1" width="6" height="6"/><rect x="1167.6" y="537.1" width="6" height="6"/><rect x="1175.6" y="546.6" width="6" height="6"/><rect x="1181.5" y="555.3" width="6" height="6"/><polyline points="1188.8,565.6 1195.4,571.4 1202,567.1 1207.1,559.8 1211.5,554 1215.8,547.4" fill="none" stroke="#f50a0a" stroke-width="6.5" stroke-linejoin="round" stroke-linecap="square"/><rect x="1212.1" y="534.9" width="6" height="6"/><rect x="1217.2" y="528.4" width="6" height="6"/><rect x="1223" y="535.6" width="6" height="6"/><rect x="1227.8" y="525.4" width="11" height="6"/></g>
</g></svg></body></html>
